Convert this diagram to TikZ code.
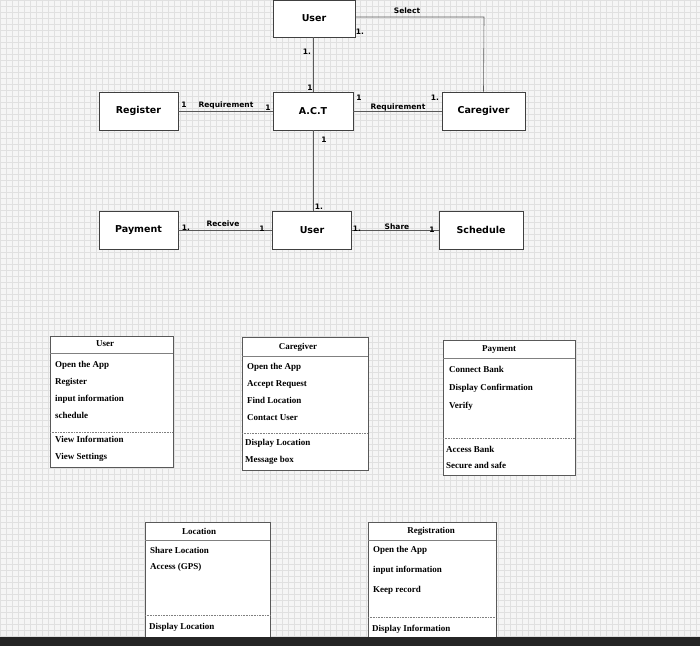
\documentclass[tikz,border=0pt]{standalone}
\usepackage{fontspec}
\setmainfont{Liberation Serif}
\newfontfamily\boxfont{DejaVu Sans}
\begin{document}
\begin{tikzpicture}[x=1pt,y=-1pt,
  ent/.style={draw=black!75,line width=0.8pt,fill=white,inner sep=0pt,font=\boxfont\bfseries\fontsize{9.5}{11}\selectfont},
  lnk/.style={draw=black!65,line width=0.6pt},
  lab/.style={font=\boxfont\bfseries\fontsize{7.5}{8}\selectfont,inner sep=1pt},
  cls/.style={draw=black!65,line width=0.6pt,fill=white},
  cline/.style={draw=black!50,line width=0.5pt},
  dline/.style={draw=black!50,line width=0.6pt,densely dotted},
  ct/.style={font=\bfseries\fontsize{9}{17}\selectfont,anchor=north west,inner sep=0pt,align=left},
  ch/.style={font=\bfseries\fontsize{9}{10}\selectfont,inner sep=0pt}]
\useasboundingbox (0,0) rectangle (700,646);
\fill[black!4] (0,0) rectangle (700,646);
\foreach \i in {0,6,...,700} \draw[black!12,line width=0.3pt] (\i,0) -- (\i,646);
\foreach \j in {0,6,...,646} \draw[black!12,line width=0.3pt] (0,\j) -- (700,\j);
% entities
\node[ent,minimum width=82,minimum height=37] (u1) at (314,18.5) {User};
\node[ent,minimum width=80,minimum height=38] (act) at (313,111) {A.C.T};
\node[ent,minimum width=79,minimum height=38] (reg) at (138.5,111) {Register};
\node[ent,minimum width=83,minimum height=38] (cg) at (483.5,111) {Caregiver};
\node[ent,minimum width=79,minimum height=38] (pay) at (138.5,230) {Payment};
\node[ent,minimum width=79,minimum height=38] (u2) at (312,230) {User};
\node[ent,minimum width=84,minimum height=38] (sch) at (481,230) {Schedule};
% links
\draw[lnk] (u1.south -| act.north) -- (act.north);
\draw[lnk] (reg) -- (act);
\draw[lnk] (act) -- (cg);
\draw[lnk] (act.south) -- (act.south |- u2.north);
\draw[lnk] (pay) -- (u2);
\draw[lnk] (u2) -- (sch);
\coordinate (sel) at (484,17);
\draw[lnk] (u1.east |- sel) -- (sel) -- (cg.north);
% labels
\node[lab] at (407,11) {Select};
\node[lab] at (360,32) {1.};
\node[lab] at (307,52) {1.};
\node[lab] at (310,88) {1};
\node[lab] at (184,105) {1};
\node[lab] at (226,105) {Requirement};
\node[lab] at (268,108) {1};
\node[lab] at (359,98) {1};
\node[lab] at (398,107) {Requirement};
\node[lab] at (435,98) {1.};
\node[lab] at (324,140) {1};
\node[lab] at (319,207) {1.};
\node[lab] at (186,228) {1.};
\node[lab] at (223,224) {Receive};
\node[lab] at (262,229) {1};
\node[lab] at (357,229) {1.};
\node[lab] at (397,227) {Share};
\node[lab] at (432,230) {1};
% class boxes
\draw[cls] (50,336) rectangle (173,467);
\draw[cline] (50,353) -- (173,353);
\draw[dline] (50,432) -- (173,432);
\node[ch] at (105,344) {User};
\node[ct] at (55,361) {Open the App\\Register\\input information\\schedule};
\node[ct] at (55,436) {View Information\\View Settings};

\draw[cls] (242,337) rectangle (368,470);
\draw[cline] (242,356) -- (368,356);
\draw[dline] (242,433) -- (368,433);
\node[ch] at (298,347) {Caregiver};
\node[ct] at (247,363) {Open the App\\Accept Request\\Find Location\\Contact User};
\node[ct] at (245,439) {Display Location\\Message box};

\draw[cls] (443,340) rectangle (575,475);
\draw[cline] (443,358) -- (575,358);
\draw[dline] (443,438) -- (575,438);
\node[ch] at (499,350) {Payment};
\node[ct,font=\bfseries\fontsize{9}{18}\selectfont] at (449,366) {Connect Bank\\Display Confirmation\\Verify};
\node[ct,font=\bfseries\fontsize{9}{16}\selectfont] at (446,446) {Access Bank\\Secure and safe};

\draw[cls] (145,522) rectangle (270,637);
\draw[cline] (145,540) -- (270,540);
\draw[dline] (145,615) -- (270,615);
\node[ch] at (199,531) {Location};
\node[ct,font=\bfseries\fontsize{9}{16}\selectfont] at (150,547) {Share Location\\Access (GPS)};
\node[ct] at (149,623) {Display Location};

\draw[cls] (368,522) rectangle (496,637);
\draw[cline] (368,540) -- (496,540);
\draw[dline] (368,617) -- (496,617);
\node[ch] at (431,531) {Registration};
\node[ct,font=\bfseries\fontsize{9}{20}\selectfont] at (373,546) {Open the App\\input information\\Keep record};
\node[ct] at (372,625) {Display Information};
\fill[black!85] (0,637) rectangle (700,646);
\end{tikzpicture}
\end{document}
